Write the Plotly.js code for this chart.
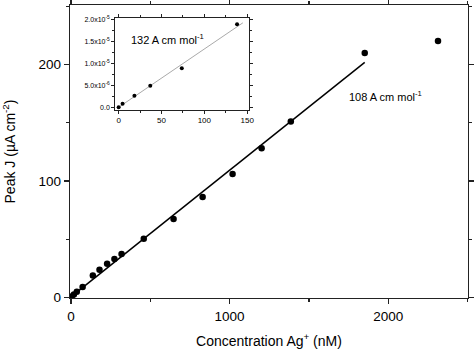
<!DOCTYPE html>
<html>
<head>
<meta charset="utf-8">
<script src="https://cdn.plot.ly/plotly-3.0.1.min.js"></script>
<style>html,body{margin:0;padding:0;background:#fff;}#chart{width:474px;height:351px;}</style>
</head>
<body>
<div id="chart"></div>
<script>
// Main data: concentration (nM) vs peak current density (µA cm^-2)
var concMain = [0, 4.6, 18.4, 36.9, 73.7, 138, 180, 228, 274, 319, 459, 647, 830, 1019, 1202, 1386, 1852, 2314];
var peakMain = [0, 0.8, 2.6, 4.9, 8.9, 18.9, 23.7, 28.9, 32.9, 37.2, 50.3, 67.4, 86.3, 106, 128, 151, 209.7, 220];
// Main linear fit (108 A cm mol^-1)
var fitMainX = [0, 1852];
var fitMainY = [0.5, 201.7];
// Inset data: concentration (nM) vs peak J (A cm^-2)
var concInset = [0, 4.6, 18.4, 36.9, 73.7, 138.2];
var peakInset = [0, 0.82e-6, 2.65e-6, 4.93e-6, 8.9e-6, 1.895e-5];
var fitInsetX = [0, 145];
var fitInsetY = [0, 1.93e-5];
// Tick labels
var mainXTicks = [0, 1000, 2000];
var mainYTicks = [0, 100, 200];
var insetXTicks = [0, 50, 100, 150];
var insetYVals = [0, 5e-6, 1e-5, 1.5e-5, 2e-5];
var insetYText = ['0.0', '5.0x10<sup>-6</sup>', '1.0x10<sup>-5</sup>', '1.5x10<sup>-5</sup>', '2.0x10<sup>-5</sup>'];

var FONT = 'Liberation Sans, Arial, sans-serif';

var traces = [
  {x: fitMainX, y: fitMainY, mode: 'lines', line: {color: '#000', width: 1.5}, xaxis: 'x', yaxis: 'y', hoverinfo: 'skip'},
  {x: concMain, y: peakMain, mode: 'markers', marker: {color: '#000', size: 6.5}, xaxis: 'x', yaxis: 'y'},
  {x: fitInsetX, y: fitInsetY, mode: 'lines', line: {color: '#aaa', width: 1}, xaxis: 'x2', yaxis: 'y2', hoverinfo: 'skip'},
  {x: concInset, y: peakInset, mode: 'markers', marker: {color: '#000', size: 4}, xaxis: 'x2', yaxis: 'y2'}
];

var axCommon = {
  showgrid: false, zeroline: false, showline: true, linecolor: '#222', linewidth: 1.3,
  mirror: 'allticks', ticks: 'outside', tickcolor: '#222', tickwidth: 1.2
};

var layout = {
  width: 474, height: 351,
  margin: {l: 70, r: 6, t: 5, b: 53},
  paper_bgcolor: '#fff', plot_bgcolor: '#fff',
  showlegend: false,
  font: {family: FONT, color: '#000'},
  xaxis: Object.assign({}, axCommon, {
    range: [-6, 2503], tickvals: mainXTicks, ticklen: 5,
    minor: {dtick: 500, tick0: 0, ticklen: 3, ticks: 'outside', tickcolor: '#222'},
    tickfont: {size: 13.5, family: FONT},
    title: {text: 'Concentration Ag<sup>+</sup> (nM)', font: {size: 14, family: FONT}, standoff: 13}
  }),
  yaxis: Object.assign({}, axCommon, {
    range: [-0.5, 251], tickvals: mainYTicks, ticklen: 5,
    minor: {dtick: 50, tick0: 0, ticklen: 3, ticks: 'outside', tickcolor: '#222'},
    tickfont: {size: 13.5, family: FONT},
    title: {text: 'Peak J (\u00b5A cm<sup>-2</sup>)', font: {size: 14, family: FONT}, standoff: 19}
  }),
  xaxis2: Object.assign({}, axCommon, {
    domain: [0.1136, 0.4495], anchor: 'y2', linewidth: 1, tickwidth: 1,
    range: [-4, 152], tickvals: insetXTicks, ticklen: 3,
    minor: {dtick: 25, tick0: 0, ticklen: 2, ticks: 'outside', tickcolor: '#222'},
    tickfont: {size: 8, family: FONT}
  }),
  yaxis2: Object.assign({}, axCommon, {
    domain: [0.642, 0.9557], anchor: 'x2', linewidth: 1, tickwidth: 1,
    range: [-0.6e-6, 2.04e-5], tickvals: insetYVals, ticktext: insetYText, ticklen: 3,
    minor: {dtick: 2.5e-6, tick0: 0, ticklen: 2, ticks: 'outside', tickcolor: '#222'},
    tickfont: {size: 7, family: FONT}
  }),
  annotations: [
    {x: 1980, y: 173, xref: 'x', yref: 'y', text: '108 A cm mol<sup>-1</sup>', showarrow: false, font: {size: 11, family: FONT}},
    {x: 57, y: 1.56e-5, xref: 'x2', yref: 'y2', text: '132 A cm mol<sup>-1</sup>', showarrow: false, font: {size: 11, family: FONT}}
  ]
};

Plotly.newPlot('chart', traces, layout, {displayModeBar: false, staticPlot: true});
</script>
</body>
</html>
